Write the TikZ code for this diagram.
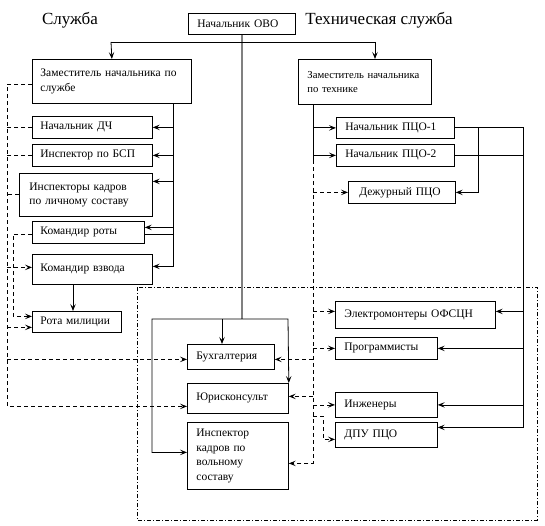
\documentclass[tikz,border=0pt]{standalone}
\usepackage{fontspec}
\setmainfont{Liberation Serif}
\newfontfamily\serf{Liberation Serif}
\usetikzlibrary{arrows.meta,calc}
\begin{document}
\begin{tikzpicture}[x=1pt,y=-1pt,
  box/.style={draw,line width=0.8pt,anchor=north west,inner xsep=8pt,inner ysep=0pt,align=left,font=\serf\fontsize{11.5}{14.7}\selectfont},
  ln/.style={line width=0.8pt},
  dsh/.style={line width=0.8pt,dash pattern=on 4pt off 3pt},
  arr/.style={-{Stealth[length=7pt,width=5.5pt,inset=3pt]}},
  barr/.style={{Stealth[length=7pt,width=5.5pt,inset=3pt]}-{Stealth[length=7pt,width=5.5pt,inset=3pt]}},
  head/.style={font=\serf\fontsize{17}{20}\selectfont},
  zone/.style={line width=0.8pt,dash pattern=on 4pt off 2pt on 1pt off 2pt}
]
\useasboundingbox (0,0) rectangle (545,526);
\node[head] (hs) at (70,20) {Служба};
\node[head] (ht) at (379,20) {Техническая служба};

% boxes
\node[box,minimum width=107pt,minimum height=21pt,inner xsep=9pt,text width=89pt] (ovo) at (188,13) {Начальник ОВО};
\node[box,minimum width=159pt,text width=143pt,minimum height=44pt] (zs) at (32,59) {Заместитель начальника по\\службе};
\node[box,minimum width=120pt,text width=104pt,minimum height=22pt] (dch) at (32,116) {Начальник ДЧ};
\node[box,minimum width=120pt,text width=104pt,minimum height=22pt] (bsp) at (32,144) {Инспектор по БСП};
\node[box,minimum width=133pt,text width=113pt,inner xsep=10pt,minimum height=43pt] (ikl) at (19,173) {Инспекторы кадров\\по личному составу};
\node[box,minimum width=112pt,text width=96pt,minimum height=22pt] (kr) at (32,221) {Командир роты};
\node[box,minimum width=120pt,text width=104pt,minimum height=30pt] (kv) at (32,254) {Командир взвода};
\node[box,minimum width=89pt,text width=73pt,minimum height=21pt] (rm) at (32,311) {Рота милиции};

\node[box,minimum width=133pt,text width=115pt,inner xsep=9pt,minimum height=45pt,font=\serf\fontsize{10.7}{14}\selectfont] (zt) at (298,59) {Заместитель начальника\\по технике};
\node[box,minimum width=118pt,text width=100pt,inner xsep=9pt,minimum height=21pt] (p1) at (336,117) {Начальник ПЦО-1};
\node[box,minimum width=118pt,text width=100pt,inner xsep=9pt,minimum height=22pt] (p2) at (336,144) {Начальник ПЦО-2};
\node[box,minimum width=107pt,text width=85pt,inner xsep=11pt,minimum height=22pt] (dp) at (348,181) {Дежурный ПЦО};

\node[box,minimum width=160pt,text width=142pt,inner xsep=9pt,minimum height=27pt] (el) at (335,301) {Электромонтеры ОФСЦН};
\node[box,minimum width=102pt,text width=84pt,inner xsep=9pt,minimum height=22pt] (pr) at (335,337) {Программисты};
\node[box,minimum width=102pt,text width=84pt,inner xsep=9pt,minimum height=25pt] (ing) at (335,392) {Инженеры};
\node[box,minimum width=102pt,text width=84pt,inner xsep=9pt,minimum height=25pt] (dpu) at (335,422) {ДПУ ПЦО};

\node[box,minimum width=87pt,text width=69pt,inner xsep=9pt,minimum height=25pt] (bh) at (187,344) {Бухгалтерия};
\node[box,minimum width=101pt,text width=83pt,inner xsep=9pt,minimum height=30pt] (yu) at (187,383) {Юрисконсульт};
\node[box,minimum width=101pt,text width=83pt,inner xsep=9pt,minimum height=67pt] (ikv) at (187,422) {Инспектор\\кадров по\\вольному\\составу};

% helper coordinates
\coordinate (tl) at (111,42);
\coordinate (tr) at (375,42);
\coordinate (sbus) at (173,0);
\coordinate (lbus) at (7,0);
\coordinate (lb2) at (13,0);
\coordinate (tbus) at (313,0);
\coordinate (rbus) at (523,0);
\coordinate (dbus) at (478,0);
\coordinate (ftl) at (152,319);
\coordinate (ftr) at (288,319);
\coordinate (bhx) at (222,319);
\coordinate (rmx) at (73,0);

% zone
\draw[zone] (137,287) rectangle (537,520);

% top
\draw[gray,line width=1.5pt] (ovo.south) -- (ovo.south |- ftl);
\draw[ln] (tl) -- (tr);
\draw[ln,arr] (tl) -- (zs.north);
\draw[ln,arr] (tr) -- (tr |- zt.north);

% service bus
\coordinate (kvin) at ([yshift=3pt]kv.east);
\draw[ln,arr] (zs.south -| sbus) |- (kvin);
\draw[ln,arr] (sbus |- dch.east) -- (dch.east);
\draw[ln,arr] (sbus |- bsp.east) -- (bsp.east);
\coordinate (iklin) at ([yshift=13.5pt]ikl.east);
\draw[ln,arr] (sbus |- iklin) -- (iklin);
\coordinate (krin) at ([yshift=5pt]kr.east);
\coordinate (krout) at ([yshift=-2pt]kr.east);
\draw[ln,arr] (sbus |- krin) -- (krin);
\draw[ln] (krout) -- (sbus |- krout);
\draw[ln,arr] (kv.south -| rmx) -- (rm.north -| rmx);

% left dashed bus
\coordinate (zsl) at ([yshift=-3pt]zs.west);
\coordinate (yuin) at ([yshift=-8pt]yu.west);
\draw[dsh,arr] (zsl) -| (lbus |- yuin) -- (yuin);
\draw[dsh] (dch.west) -- (lbus |- dch.west);
\draw[dsh] (bsp.west) -- (lbus |- bsp.west);
\draw[dsh] (ikl.west) -- (lbus |- ikl.west);
\coordinate (kvl) at ([yshift=2pt]kv.west);
\draw[dsh,arr] (lbus |- kvl) -- (kvl);
\coordinate (rml1) at ([yshift=5.5pt]rm.west);
\coordinate (rml2) at ([yshift=-5.5pt]rm.west);
\draw[dsh,arr] (lbus |- rml2) -- (rml2);
\coordinate (krl) at ([yshift=-2pt]kr.west);
\draw[dsh,arr] (krl) -| (lb2 |- rml1) -- (rml1);
\coordinate (bhl) at ([yshift=-2.5pt]bh.west);
\draw[dsh,arr] (lbus |- bhl) -- (bhl);

% central frame
\coordinate (ikvl) at ([yshift=3.5pt]ikv.west);
\draw[ln,barr] (ikvl) -| (ftl) -- (ftr) -- (yu.north east);
\draw[ln,arr] (bhx) -- (bhx |- bh.north);

% tech bus
\coordinate (tmid) at (313,160);
\draw[ln] (zt.south -| tbus) -- (tmid);
\draw[ln,arr] (tbus |- p1.west) -- (p1.west);
\draw[ln,arr] (tbus |- p2.west) -- (p2.west);
\coordinate (ikvr) at ([yshift=-7.5pt]ikv.east);
\draw[dsh,arr] (tmid) |- (ikvr);
\draw[dsh,arr] (tbus |- dp.west) -- (dp.west);
\coordinate (elw) at ([yshift=3.5pt]el.west);
\draw[dsh,arr] (tbus |- elw) -- (elw);
\draw[dsh,arr] (tbus |- pr.west) -- (pr.west);
\draw[dsh,arr] (tbus |- ing.west) -- (ing.west);
\coordinate (dpuw) at ([yshift=-4.5pt]dpu.west);
\coordinate (dpuk) at (323,416);
\draw[dsh,arr] (tbus |- dpuk) -- (dpuk) |- (dpuw);
\coordinate (bhr) at ([yshift=-2.5pt]bh.east);
\draw[dsh,arr] (tbus |- bhr) -- (bhr);
\coordinate (yur) at ([yshift=2pt]yu.east);
\draw[dsh,arr] (tbus |- yur) -- (yur);

% right bus
\coordinate (dpue) at ([yshift=7.5pt]dpu.east);
\draw[ln,arr] (p1.east) -| (rbus |- dpue) -- (dpue);
\draw[ln] (p2.east) -- (rbus |- p2.east);
\coordinate (ele) at ([yshift=3.5pt]el.east);
\draw[ln,arr] (rbus |- ele) -- (ele);
\draw[ln,arr] (rbus |- pr.east) -- (pr.east);
\draw[ln,arr] (rbus |- ing.east) -- (ing.east);
\draw[ln,arr] (dbus |- p1.east) |- (dp.east);
\end{tikzpicture}
\end{document}
